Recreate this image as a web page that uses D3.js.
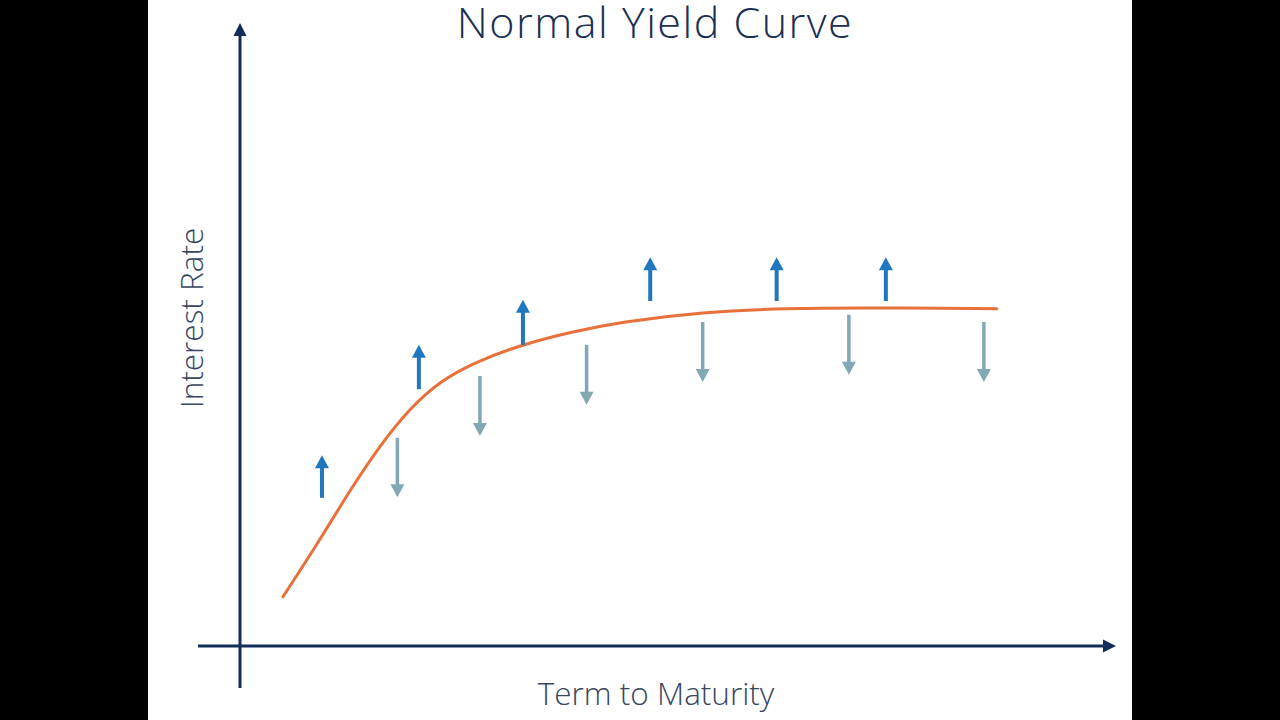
<!DOCTYPE html>
<html>
<head>
<meta charset="utf-8">
<script src="https://cdn.jsdelivr.net/npm/d3@7"></script>
<style>
  html, body { margin: 0; padding: 0; background: #000; }
  svg { display: block; }
</style>
</head>
<body>
<svg id="chart" width="1280" height="720"></svg>
<script>
// ---- data (arbitrary units: term 0-100, rate 0-100) ----
const curveTerm = [5.0, 9.3, 12.8, 16.3, 19.8, 23.3, 27.3, 32.9, 38.4, 44.2, 53.8, 63.6, 73.3, 88.0];
const curveRate = [8.2, 17.7, 26.0, 33.5, 39.7, 44.2, 47.3, 50.3, 52.3, 54.0, 55.7, 56.3, 56.4, 56.2];

const upTerm    = [9.53, 20.8, 32.9, 47.7, 62.4, 75.1];
const upFrom    = [24.7, 42.8, 50.2, 57.5, 57.5, 57.5];
const upTo      = [31.8, 50.2, 57.7, 64.8, 64.8, 64.8];

const downTerm  = [18.3, 27.9, 40.3, 53.8, 70.8, 86.5];
const downFrom  = [34.7, 45.0, 50.2, 54.0, 55.2, 54.0];
const downTo    = [24.8, 35.0, 40.2, 44.0, 45.2, 44.0];

const titleText = "Normal Yield Curve";
const xLabel = "Term to Maturity";
const yLabel = "Interest Rate";

// ---- layout ----
const svg = d3.select("#chart");
const FONT = "'Open Sans', 'Noto Sans', sans-serif";
const AXIS = "#122d57";

svg.append("rect").attr("x", 148).attr("y", 0).attr("width", 984).attr("height", 720).attr("fill", "#ffffff");

const x = d3.scaleLinear().domain([0, 100]).range([240, 1100]);
const y = d3.scaleLinear().domain([0, 100]).range([646, 46]);

// axes
svg.append("line").attr("x1", 198).attr("x2", 1104).attr("y1", y(0)).attr("y2", y(0))
  .attr("stroke", AXIS).attr("stroke-width", 3);
svg.append("path").attr("d", `M${1116},${y(0)} L${1103},${y(0)-6.5} L${1103},${y(0)+6.5} Z`).attr("fill", AXIS);

svg.append("line").attr("x1", x(0)).attr("x2", x(0)).attr("y1", 688).attr("y2", 34)
  .attr("stroke", AXIS).attr("stroke-width", 3);
svg.append("path").attr("d", `M${x(0)},23 L${x(0)-6.5},36 L${x(0)+6.5},36 Z`).attr("fill", AXIS);

// curve
const pts = curveTerm.map((t, i) => [t, curveRate[i]]);
svg.append("path")
  .datum(pts)
  .attr("d", d3.line().x(d => x(d[0])).y(d => y(d[1])).curve(d3.curveBasis))
  .attr("fill", "none").attr("stroke", "#e8703a").attr("stroke-width", 3).attr("stroke-linecap", "round");

// arrows
function drawArrow(t, from, to, color, sw) {
  const px = x(t), y0 = y(from), y1 = y(to);
  const dir = y1 < y0 ? -1 : 1; // -1 up
  const headH = 13, headW = 14;
  const baseY = y1 - dir * headH;
  svg.append("line").attr("x1", px).attr("x2", px).attr("y1", y0).attr("y2", baseY + dir * 1)
    .attr("stroke", color).attr("stroke-width", sw);
  svg.append("path").attr("d", `M${px},${y1} L${px - headW/2},${baseY} L${px + headW/2},${baseY} Z`).attr("fill", color);
}
upTerm.forEach((t, i) => drawArrow(t, upFrom[i], upTo[i], "#1f78bd", 4));
downTerm.forEach((t, i) => drawArrow(t, downFrom[i], downTo[i], "#82a8b5", 3.5));

// texts
svg.append("text").attr("x", 655).attr("y", 38).attr("text-anchor", "middle")
  .attr("font-family", FONT).attr("font-weight", 300).attr("font-size", 43)
  .attr("letter-spacing", 1.5)
  .attr("fill", "#1b2f52").text(titleText);

svg.append("text").attr("x", 656).attr("y", 705).attr("text-anchor", "middle")
  .attr("font-family", FONT).attr("font-weight", 300).attr("font-size", 31.5)
  .attr("fill", "#38465f").text(xLabel);

svg.append("text").attr("transform", "translate(203,318) rotate(-90)").attr("text-anchor", "middle")
  .attr("font-family", FONT).attr("font-weight", 300).attr("font-size", 31.5)
  .attr("fill", "#38465f").text(yLabel);
</script>
</body>
</html>
